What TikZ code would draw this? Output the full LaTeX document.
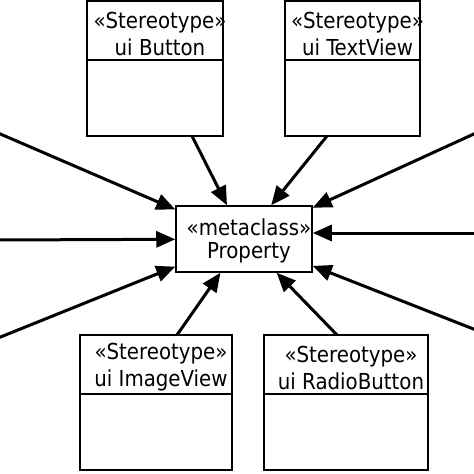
\documentclass[tikz,border=0pt]{standalone}
\usepackage{fontspec}
\setmainfont{DejaVu Sans Condensed}
\usetikzlibrary{positioning}
\usetikzlibrary{arrows.meta}

\begin{document}
\begin{tikzpicture}[x=1pt, y=-1pt,
    head/.style={draw, line width=2pt, outer sep=0pt, minimum height=59pt, inner sep=0pt},
    headtext/.style={align=center, inner sep=0pt, xshift=5pt, yshift=-3pt, font=\fontsize{22}{27}\selectfont},
    body/.style={draw, line width=2pt, outer sep=0pt, minimum height=76pt},
    meta/.style={draw, line width=1.5pt, minimum width=136pt, minimum height=66pt, inner sep=0pt},
    dep/.style={line width=3pt, -{Triangle[length=19pt, width=16pt]}}]
    \useasboundingbox (0,0) rectangle (474,474);

    % Metaclass
    \node[meta, label={[headtext, font=\fontsize{22}{23}\selectfont, yshift=1pt]center:{«metaclass»\\Property}}] (prop) at (244,239) {};

    % Stereotypes above
    \node[head, minimum width=136pt, label={[headtext]center:{«Stereotype»\\ui Button}}] (buttonhead) at (155,30.5) {};
    \node[body, minimum width=136pt, below=0pt of buttonhead] (buttonbody) {};
    \node[head, minimum width=135pt, label={[headtext]center:{«Stereotype»\\ui TextView}}] (textviewhead) at (352.5,30.5) {};
    \node[body, minimum width=135pt, below=0pt of textviewhead] (textviewbody) {};

    % Stereotypes below
    \node[head, minimum width=152pt, label={[headtext]center:{«Stereotype»\\ui ImageView}}] (imageviewhead) at (156,364.5) {};
    \node[body, minimum width=152pt, below=0pt of imageviewhead] (imageviewbody) {};
    \node[head, minimum width=164pt, label={[headtext]center:{«Stereotype»\\ui RadioButton}}] (radiohead) at (346,364.5) {};
    \node[body, minimum width=164pt, below=0pt of radiohead] (radiobody) {};

    % Free ends at the sides
    \coordinate (lt) at (-2,133);
    \coordinate (lm) at (-2,240);
    \coordinate (lb) at (-2,338);
    \coordinate (rt) at (476,133);
    \coordinate (rm) at (476,233);
    \coordinate (rb) at (476,330);

    % Arrows
    \draw[dep] ([xshift=37pt]buttonbody.south) -- (prop);
    \draw[dep] ([xshift=-25.5pt]textviewbody.south) -- (prop);
    \draw[dep] ([xshift=21pt]imageviewhead.north) -- (prop);
    \draw[dep] ([xshift=-9pt]radiohead.north) -- (prop);
    \draw[dep] (lt) -- (prop);
    \draw[dep] (lm) -- (prop);
    \draw[dep] (lb) -- (prop);
    \draw[dep] (rt) -- (prop);
    \draw[dep] (rm) -- (rm -| prop.east);
    \draw[dep] (rb) -- (prop);
\end{tikzpicture}
\end{document}
